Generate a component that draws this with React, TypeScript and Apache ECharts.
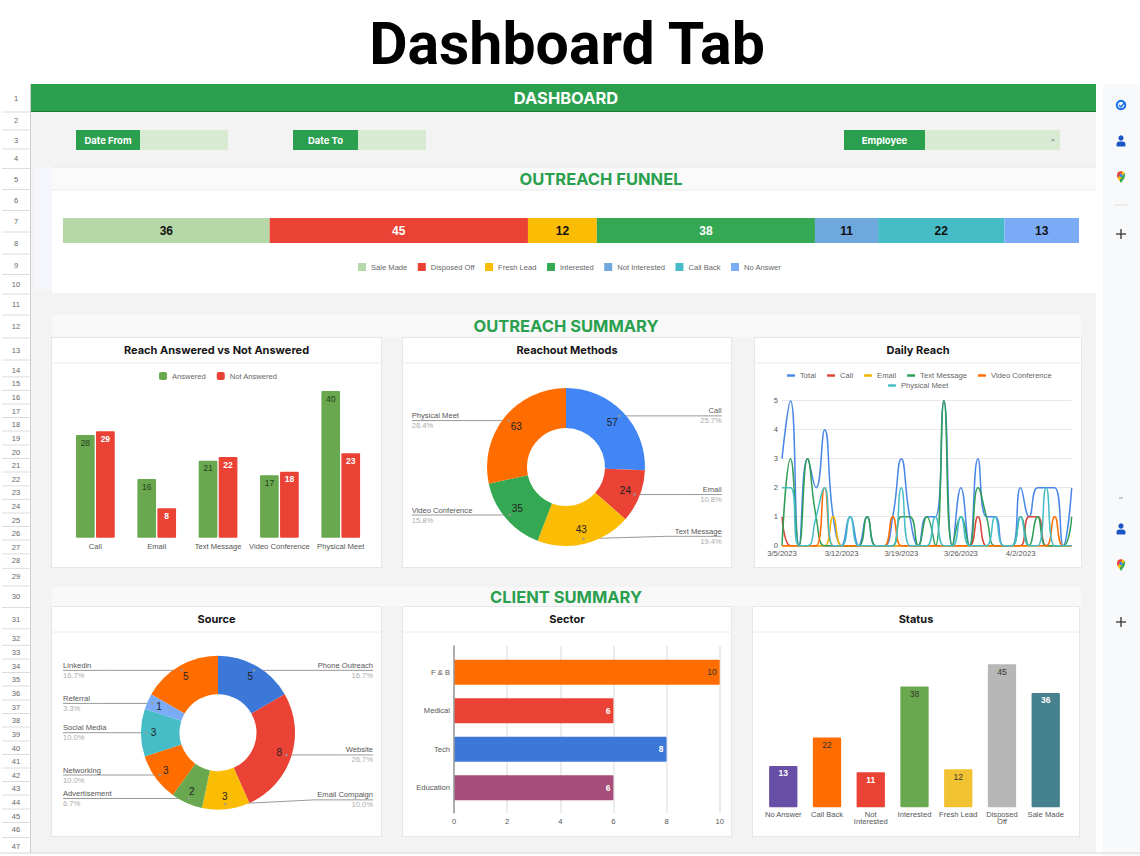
import React, { useEffect, useRef } from "react";
import * as echarts from "echarts";

const SANS = "Liberation Sans";
const TITLE = "Roboto";
const HEAD = "Inter";
const GREEN = "#2aa04f";
const SMALL = 7.6;

const funnelNames = ["Sale Made", "Disposed Off", "Fresh Lead", "Interested", "Not Interested", "Call Back", "No Answer"];
const funnelValues = [36, 45, 12, 38, 11, 22, 13];
const funnelColors = ["#b6d7a8", "#ea4335", "#fbbc04", "#34a853", "#6fa8dc", "#46bdc6", "#7baaf7"];
const funnelLabelColors = ["#111", "#fff", "#111", "#fff", "#111", "#111", "#111"];

const methodNames = ["Call", "Email", "Text Message", "Video Conference", "Physical Meet"];
const answeredValues = [28, 16, 21, 17, 40];
const notAnsweredValues = [29, 8, 22, 18, 23];

const reachoutValues = [57, 24, 43, 35, 63];
const reachoutColors = ["#4285f4", "#ea4335", "#fbbc04", "#34a853", "#ff6d01"];

const dayLabels = [
  "3/5/2023", "3/6/2023", "3/7/2023", "3/8/2023", "3/9/2023", "3/10/2023", "3/11/2023",
  "3/12/2023", "3/13/2023", "3/14/2023", "3/15/2023", "3/16/2023", "3/17/2023", "3/18/2023",
  "3/19/2023", "3/20/2023", "3/21/2023", "3/22/2023", "3/23/2023", "3/24/2023", "3/25/2023",
  "3/26/2023", "3/27/2023", "3/28/2023", "3/29/2023", "3/30/2023", "3/31/2023", "4/1/2023",
  "4/2/2023", "4/3/2023", "4/4/2023", "4/5/2023", "4/6/2023", "4/7/2023", "4/8/2023",
];
const dailyTotal = [3, 5, 0, 3, 2, 4, 1, 0, 1, 0, 1, 0, 0, 1, 3, 1, 0, 1, 1, 5, 0, 2, 0, 3, 1, 1, 0, 0, 2, 1, 2, 2, 2, 0, 2];
const dailyCall = [1, 0, 0, 0, 0, 0, 0, 0, 0, 0, 0, 0, 0, 0, 0, 0, 0, 0, 0, 0, 0, 0, 0, 1, 0, 0, 0, 0, 0, 1, 1, 0, 0, 0, 0];
const dailyEmail = [0, 0, 0, 0, 0, 0, 1, 0, 0, 0, 0, 0, 0, 0, 0, 0, 0, 0, 0, 0, 0, 0, 0, 0, 0, 0, 0, 0, 0, 0, 0, 0, 0, 0, 0];
const dailyText = [0, 3, 0, 3, 1, 0, 0, 0, 0, 0, 1, 0, 0, 0, 1, 1, 0, 1, 0, 5, 0, 1, 0, 2, 1, 0, 0, 0, 1, 0, 1, 0, 0, 0, 1];
const dailyVideo = [0, 0, 0, 0, 0, 2, 0, 0, 0, 0, 0, 0, 0, 1, 0, 0, 0, 0, 0, 0, 0, 0, 0, 0, 0, 0, 0, 0, 0, 0, 0, 0, 1, 0, 0];
const dailyMeet = [2, 2, 0, 0, 1, 2, 0, 0, 1, 0, 0, 0, 0, 0, 2, 0, 0, 0, 1, 0, 0, 1, 0, 0, 0, 1, 0, 0, 1, 0, 0, 2, 0, 0, 0];
const dailyNames = ["Total", "Call", "Email", "Text Message", "Video Conference", "Physical Meet"];
const dailyColors = ["#4a86e8", "#db4437", "#f4b400", "#2f9e57", "#ff6d01", "#46bdc6"];

const sourceNames = ["Phone Outreach", "Website", "Email Compaign", "Advertisement", "Networking", "Social Media", "Referral", "Linkedin"];
const sourceValues = [5, 8, 3, 2, 3, 3, 1, 5];
const sourceColors = ["#3c78d8", "#ea4335", "#fbbc04", "#6aa84f", "#ff6d01", "#46bdc6", "#7baaf7", "#ff6d01"];

const sectorNames = ["F & B", "Medical", "Tech", "Education"];
const sectorValues = [10, 6, 8, 6];
const sectorColors = ["#ff6d01", "#ea4335", "#3c78d8", "#a64d79"];
const sectorLabelColors = ["#333", "#fff", "#fff", "#fff"];

const statusNames = ["No Answer", "Call Back", "Not\nInterested", "Interested", "Fresh Lead", "Disposed\nOff", "Sale Made"];
const statusValues = [13, 22, 11, 38, 12, 45, 36];
const statusColors = ["#674ea7", "#ff6d01", "#ea4335", "#6aa84f", "#f1c232", "#b7b7b7", "#45818e"];
const statusLabelColors = ["#fff", "#333", "#fff", "#333", "#333", "#333", "#fff"];

const rowCenters = [98, 120, 140, 158, 179, 200, 221, 243, 265, 284, 304, 326, 350, 370, 383.7, 397, 411, 424, 438, 452, 465, 479, 492.7, 506, 520, 533, 547, 560.7, 576, 596, 619, 638.7, 652, 666, 679, 693, 707, 720, 734, 748, 761, 775, 788, 802, 816, 829, 846];

const LINE_INSET = 0.935;

const pieLabelLayout = (cx: number, cy: number, r: number, leftEdge: number, rightEdge: number) => (params: any) => {
  const pts = params.labelLinePoints;
  if (!pts) return {};
  const dx = pts[0][0] - cx;
  const dy = pts[0][1] - cy;
  const sx = cx + dx * LINE_INSET;
  const sy = cy + dy * LINE_INSET;
  const isLeft = dx < 0;
  const edge = isLeft ? leftEdge : rightEdge;
  const nearBottom = dy > 0 && Math.abs(dx) < 0.3 * r;
  const ey = nearBottom ? sy - 6 * (1 - Math.abs(dx) / (0.4 * r)) : sy;
  const mx = sx + (edge - sx) * 0.6;
  return {
    x: edge,
    y: ey,
    align: isLeft ? "left" : "right",
    verticalAlign: "middle",
    labelLinePoints: [[sx, sy], [mx, ey], [edge, ey]],
  };
};

const pieDots = (values: number[], cx: number, cy: number, r: number) => {
  const total = values.reduce((a, b) => a + b, 0);
  let acc = 0;
  return values.map((v) => {
    const a = ((acc + v / 2) / total) * Math.PI * 2;
    acc += v;
    return {
      type: "circle",
      z: 20,
      silent: true,
      shape: { cx: cx + Math.sin(a) * r * LINE_INSET, cy: cy - Math.cos(a) * r * LINE_INSET, r: 1.2 },
      style: { fill: "#999" },
    };
  });
};

const pieSeries = (
  name: string,
  names: string[],
  values: number[],
  colors: string[],
  cx: number,
  cy: number,
  r0: number,
  r: number,
  labelR0: number,
  leftEdge: number,
  rightEdge: number,
) => {
  const total = values.reduce((a, b) => a + b, 0);
  const data = names.map((n, i) => ({ name: n, value: values[i], itemStyle: { color: colors[i] } }));
  return [
    {
      type: "pie",
      name,
      center: [cx, cy],
      radius: [r0, r],
      startAngle: 90,
      clockwise: true,
      avoidLabelOverlap: false,
      silent: true,
      data,
      itemStyle: { borderWidth: 0 },
      label: {
        show: true,
        position: "outside",
        formatter: (p: any) => `{n|${p.name}}\n{p|${((p.value / total) * 100).toFixed(1)}%}`,
        rich: {
          n: { fontFamily: SANS, fontSize: SMALL, color: "#555", lineHeight: 10 },
          p: { fontFamily: SANS, fontSize: SMALL, color: "#aaa", lineHeight: 10 },
        },
      },
      labelLine: { show: true, length: 10, length2: 20, smooth: false, lineStyle: { color: "#999", width: 1 } },
      labelLayout: pieLabelLayout(cx, cy, r, leftEdge, rightEdge),
    },
    {
      type: "pie",
      name: name + " values",
      center: [cx, cy],
      radius: [labelR0, r],
      startAngle: 90,
      avoidLabelOverlap: false,
      silent: true,
      data: names.map((n, i) => ({ name: n, value: values[i] })),
      itemStyle: { color: "rgba(0,0,0,0)" },
      label: { show: true, position: "inside", formatter: "{c}", fontFamily: SANS, fontSize: 10, color: "#222" },
      labelLine: { show: false },
    },
  ];
};

const rect = (x: number, y: number, w: number, h: number, fill: string, extra: any = {}) => ({
  type: "rect",
  z: -1,
  silent: true,
  shape: { x, y, width: w, height: h, ...extra },
  style: { fill },
});
const line = (x1: number, y1: number, x2: number, y2: number, stroke: string, lineWidth = 1) => ({
  type: "line",
  z: -1,
  silent: true,
  shape: { x1, y1, x2, y2 },
  style: { stroke, lineWidth },
});
const text = (t: string, x: number, y: number, fontSize: number, fill: string, fontWeight: any = 400, fontFamily = SANS, align = "center") => ({
  type: "text",
  z: -1,
  silent: true,
  x,
  y,
  style: { text: t, fontSize, fontFamily, fontWeight, fill, align, verticalAlign: "middle" },
});

const card = (x: number, y: number, w: number, h: number, headH: number, title: string) => [
  rect(x - 1, y - 1, w + 2, h + 2, "#e6e6e6"),
  rect(x, y, w, h, "#ffffff"),
  line(x, y + headH, x + w, y + headH, "#ececec"),
  text(title, x + w / 2, y + headH / 2 - 0.5, 11, "#151515", 700, HEAD),
];

const pin = (x: number, y: number) => ({
  type: "group",
  z: -1,
  children: [
    {
      type: "dashPin",
      z: -1,
      silent: true,
      x,
      y,
      style: {
        fill: new echarts.graphic.LinearGradient(0, 0, 1, 1, [
          { offset: 0, color: "#ea4335" },
          { offset: 0.35, color: "#ea4335" },
          { offset: 0.36, color: "#fbbc04" },
          { offset: 0.55, color: "#fbbc04" },
          { offset: 0.56, color: "#34a853" },
          { offset: 1, color: "#34a853" },
        ]),
      },
    },
    { type: "circle", z: -1, silent: true, shape: { cx: x, cy: y - 1.5, r: 1.7 }, style: { fill: "#4285f4" } },
  ],
});
const person = (x: number, y: number) => [
  { type: "circle", z: -1, silent: true, shape: { cx: x, cy: y - 3, r: 2.6 }, style: { fill: "#1a56c4" } },
  rect(x - 4.5, y + 0.5, 9, 5, "#1a56c4", { r: [3, 3, 1, 1] }),
];
const plus = (x: number, y: number) => [line(x - 5, y, x + 5, y, "#333", 1.3), line(x, y - 5, x, y + 5, "#333", 1.3)];

const chromeElements = (): any[] => {
  const els: any[] = [];
  els.push(rect(0, 0, 1140, 856, "#ffffff"));
  els.push(text("Dashboard Tab", 567, 43, 59, "#000000", 700, TITLE));
  // sheet
  els.push(rect(31, 112, 1065, 741, "#f3f3f3"));
  els.push(rect(1103, 84, 37, 772, "#f8f9fb"));
  els.push(rect(31, 84, 1065, 28, GREEN));
  els.push(line(31, 111.5, 1096, 111.5, "#1c7a3b", 1));
  els.push(text("DASHBOARD", 566, 98, 16.5, "#ffffff", 700, HEAD));
  // row header
  els.push(rect(0, 84, 31, 769, "#ffffff"));
  els.push(line(30.5, 84, 30.5, 853, "#cfcfcf"));
  els.push(line(0, 853, 1140, 853, "#d5d5d5"));
  rowCenters.forEach((c, i) => {
    els.push(text(String(i + 1), 16, c, 7.5, "#666"));
    if (i < rowCenters.length - 1) {
      const b = i === 0 ? 112 : (c + rowCenters[i + 1]) / 2;
      els.push(line(2, b, 30, b, "#dcdcdc"));
    }
  });
  // filters
  const filter = (label: string, x1: number, x2: number, x3: number) => {
    els.push(rect(x1, 130, x2 - x1, 20, GREEN));
    els.push(rect(x2, 130, x3 - x2, 20, "#d9ead3"));
    els.push(text(label, (x1 + x2) / 2, 140.5, 9.5, "#ffffff", 700, HEAD));
  };
  filter("Date From", 76, 140, 228);
  filter("Date To", 293, 358, 426);
  filter("Employee", 844, 925, 1060);
  els.push({ type: "polygon", z: -1, silent: true, shape: { points: [[1051, 139.5], [1055, 139.5], [1053, 141.5]] }, style: { fill: "#888" } });
  // funnel card
  els.push(rect(34, 167, 18, 123, "#f5f6fc"));
  els.push(rect(52, 167, 1044, 126, "#ffffff"));
  els.push(rect(52, 167, 1044, 23, "#fafafa"));
  els.push(line(52, 167, 1096, 167, "#e8e8e8"));
  els.push(line(52, 190, 1096, 190, "#ececec"));
  els.push(text("OUTREACH FUNNEL", 601, 179, 16.5, GREEN, 700, HEAD));
  // section bands
  els.push(rect(52, 315, 1029, 22, "#f8f8f8"));
  els.push(text("OUTREACH SUMMARY", 566, 326, 16.5, GREEN, 700, HEAD));
  els.push(rect(52, 587, 1029, 19, "#f8f8f8"));
  els.push(text("CLIENT SUMMARY", 566, 597, 16.5, GREEN, 700, HEAD));
  // cards
  els.push(...card(52, 338, 329, 229, 25, "Reach Answered vs Not Answered"));
  els.push(...card(403, 338, 328, 229, 25, "Reachout Methods"));
  els.push(...card(755, 338, 326, 229, 25, "Daily Reach"));
  els.push(...card(52, 607, 329, 229, 25, "Source"));
  els.push(...card(403, 607, 328, 229, 25, "Sector"));
  els.push(...card(753, 607, 326, 229, 25, "Status"));
  // side panel
  els.push({ type: "circle", z: -1, silent: true, shape: { cx: 1121, cy: 105, r: 4.3 }, style: { fill: "none", stroke: "#1a73e8", lineWidth: 2 } });
  els.push({ type: "polyline", z: -1, silent: true, shape: { points: [[1119, 105], [1121, 107], [1125, 102]] }, style: { stroke: "#1a73e8", fill: "none", lineWidth: 1.5 } });
  els.push(...person(1121, 141));
  els.push(pin(1121, 177));
  els.push(line(1114, 205, 1128, 205, "#e0e0e0"));
  els.push(...plus(1121, 234));
  els.push(line(1119, 498, 1123, 498, "#999"));
  els.push(...person(1121, 529));
  els.push(pin(1121, 565));
  els.push(...plus(1121, 622));
  // pie dots
  els.push(...pieDots(reachoutValues, 566, 467, 79));
  els.push(...pieDots(sourceValues, 218, 732.7, 77));
  return els;
};

const axisText = { fontFamily: SANS, fontSize: SMALL, color: "#555" };
const legendText = { fontFamily: SANS, fontSize: SMALL, color: "#666" };

const buildOption = () => ({
  animation: false,
  backgroundColor: "#ffffff",
  graphic: { elements: chromeElements() },
  legend: [
    {
      data: funnelNames, left: 358, top: 263, padding: 0, itemWidth: 8, itemHeight: 8, itemGap: 10.5,
      selectedMode: false, textStyle: legendText, icon: "rect",
    },
    {
      data: ["Answered", "Not Answered"], left: 159, top: 372, padding: 0, itemWidth: 8, itemHeight: 8, itemGap: 11,
      selectedMode: false, textStyle: legendText, icon: "roundRect",
    },
    {
      data: dailyNames.slice(0, 5), left: 787, top: 371.5, padding: 0, itemWidth: 8, itemHeight: 2.5, itemGap: 11,
      selectedMode: false, textStyle: legendText, icon: "roundRect",
    },
    {
      data: dailyNames.slice(5), left: 888, top: 381.5, padding: 0, itemWidth: 8, itemHeight: 2.5,
      selectedMode: false, textStyle: legendText, icon: "roundRect",
    },
  ],
  grid: [
    { left: 63, top: 218, width: 1016, height: 25 },
    { left: 64.7, top: 391, width: 306.7, height: 146.7 },
    { left: 782, top: 400.7, width: 289.7, height: 145 },
    { left: 454, top: 646, width: 265.7, height: 167 },
    { left: 454, top: 653, width: 265.7, height: 154 },
    { left: 761.4, top: 664.3, width: 306.2, height: 143 },
  ],
  xAxis: [
    { gridIndex: 0, type: "value", min: 0, max: funnelValues.reduce((a, b) => a + b, 0), show: false },
    {
      gridIndex: 1, type: "category", data: methodNames,
      axisLine: { show: false }, axisTick: { show: false },
      axisLabel: { ...axisText, interval: 0, margin: 5 },
    },
    {
      gridIndex: 2, type: "category", data: dayLabels, boundaryGap: false,
      axisLine: { show: false }, axisTick: { show: false },
      axisLabel: { ...axisText, interval: 6, margin: 4, hideOverlap: false },
    },
    {
      gridIndex: 3, type: "value", min: 0, max: 10, interval: 2,
      axisLine: { show: false }, axisTick: { show: false },
      axisLabel: { ...axisText, margin: 4 },
      splitLine: { show: true, lineStyle: { color: "#e6e6e6", width: 1.5 } },
    },
    { gridIndex: 4, type: "value", min: 0, max: 10, show: false },
    {
      gridIndex: 5, type: "category", data: statusNames,
      axisLine: { show: false }, axisTick: { show: false },
      axisLabel: { ...axisText, interval: 0, margin: 4, lineHeight: 7, verticalAlign: "top" },
    },
  ],
  yAxis: [
    { gridIndex: 0, type: "category", data: ["Funnel"], show: false },
    { gridIndex: 1, type: "value", min: 0, max: 40, show: false },
    {
      gridIndex: 2, type: "value", min: 0, max: 5, interval: 1,
      axisLine: { show: false }, axisTick: { show: false },
      axisLabel: { ...axisText, margin: 4 },
      splitLine: { show: true, lineStyle: { color: "#e8e8e8", width: 1 } },
    },
    {
      gridIndex: 3, type: "category", data: [], z: 5,
      axisLine: { show: true, lineStyle: { color: "#999", width: 1.5 } }, axisTick: { show: false },
      axisLabel: { show: false },
    },
    {
      gridIndex: 4, type: "category", data: sectorNames, inverse: true,
      axisLine: { show: false }, axisTick: { show: false },
      axisLabel: { ...axisText, margin: 4 },
    },
    { gridIndex: 5, type: "value", min: 0, max: 45, show: false },
  ],
  series: [
    ...funnelNames.map((name, i) => ({
      type: "bar", name, stack: "funnel", xAxisIndex: 0, yAxisIndex: 0,
      data: [funnelValues[i]], barWidth: 25,
      itemStyle: { color: funnelColors[i] },
      label: { show: true, position: "inside", fontFamily: SANS, fontSize: 12, fontWeight: 700, color: funnelLabelColors[i] },
    })),
    {
      type: "bar", name: "Answered", xAxisIndex: 1, yAxisIndex: 1, data: answeredValues,
      barWidth: 18.7, barGap: "7%", itemStyle: { color: "#6aa84f", borderRadius: 1 },
      label: { show: true, position: "insideTop", distance: 3, fontFamily: SANS, fontSize: 8.5, color: "#24401a" },
    },
    {
      type: "bar", name: "Not Answered", xAxisIndex: 1, yAxisIndex: 1, data: notAnsweredValues,
      barWidth: 18.7, itemStyle: { color: "#ea4335", borderRadius: 1 },
      label: { show: true, position: "insideTop", distance: 3, fontFamily: SANS, fontSize: 8.5, fontWeight: 700, color: "#fff" },
    },
    ...[dailyTotal, dailyCall, dailyEmail, dailyText, dailyVideo, dailyMeet].map((data, i) => ({
      type: "line", name: dailyNames[i], xAxisIndex: 2, yAxisIndex: 2, data,
      smooth: 0.5, showSymbol: false, symbol: "none", clip: false,
      lineStyle: { color: dailyColors[i], width: 1.5 },
      itemStyle: { color: dailyColors[i] },
    })),
    ...pieSeries("Reachout Methods", methodNames, reachoutValues, reachoutColors, 566, 467, 39, 79, 43, 411.7, 721.7),
    ...pieSeries("Source", sourceNames, sourceValues, sourceColors, 218, 732.7, 38.5, 77, 46, 63, 373),
    {
      type: "bar", name: "Sector", xAxisIndex: 4, yAxisIndex: 4, barWidth: 25,
      data: sectorValues.map((value, i) => ({
        value,
        itemStyle: { color: sectorColors[i], borderRadius: 1 },
        label: { color: sectorLabelColors[i], fontWeight: sectorLabelColors[i] === "#fff" ? 700 : 400 },
      })),
      label: { show: true, position: "insideRight", distance: 3, fontFamily: SANS, fontSize: 8.5 },
    },
    {
      type: "bar", name: "Status", xAxisIndex: 5, yAxisIndex: 5, barWidth: 28.3,
      data: statusValues.map((value, i) => ({
        value,
        itemStyle: { color: statusColors[i], borderRadius: 1 },
        label: { color: statusLabelColors[i], fontWeight: statusLabelColors[i] === "#fff" ? 700 : 400 },
      })),
      label: { show: true, position: "insideTop", distance: 3, fontFamily: SANS, fontSize: 8.5 },
    },
  ],
});

export default function App() {
  const ref = useRef<HTMLDivElement | null>(null);
  useEffect(() => {
    document.body.style.margin = "0";
    echarts.graphic.registerShape(
      "dashPin",
      echarts.graphic.extendPath("M0 6C-1.2 3.6 -4 1.5 -4 -1.6A4 4.2 0 1 1 4 -1.6C4 1.5 1.2 3.6 0 6Z", {}),
    );
    const chart = echarts.init(ref.current as HTMLDivElement, undefined, { renderer: "svg" });
    chart.setOption(buildOption() as any);
    return () => chart.dispose();
  }, []);
  return <div ref={ref} style={{ position: "absolute", left: 0, top: 0, width: 1140, height: 856 }} />;
}
